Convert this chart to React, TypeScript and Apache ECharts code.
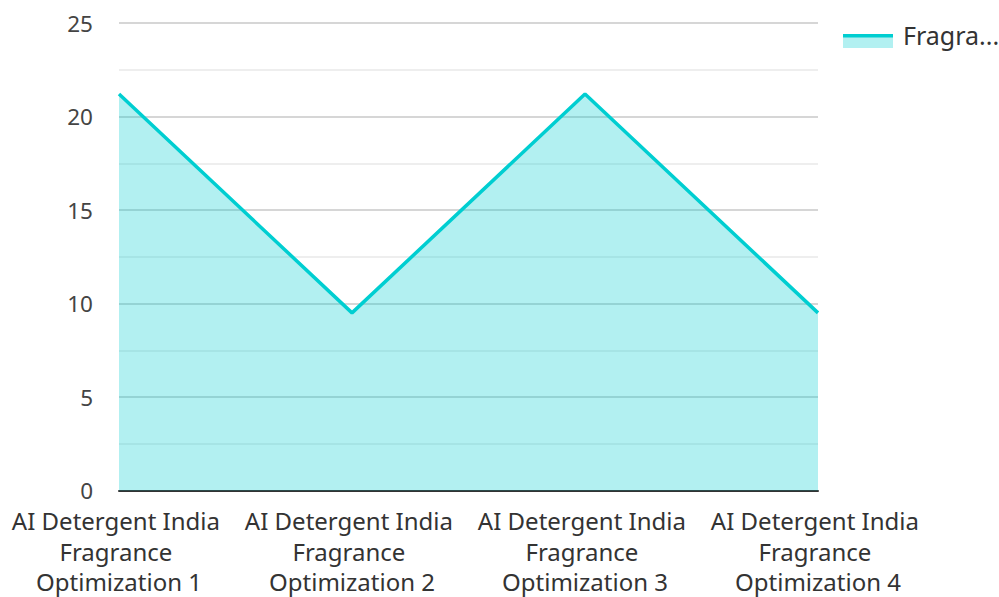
import React, { useEffect, useRef } from "react";
import * as echarts from "echarts";

const categories = [
  "AI Detergent India Fragrance Optimization 1",
  "AI Detergent India Fragrance Optimization 2",
  "AI Detergent India Fragrance Optimization 3",
  "AI Detergent India Fragrance Optimization 4",
];
const seriesName = "Fragrance Score";
const values = [21.2, 9.5, 21.2, 9.5];

export default function App() {
  const ref = useRef<HTMLDivElement>(null);
  useEffect(() => {
    document.body.style.margin = "0";
    const chart = echarts.init(ref.current!, null, { renderer: "svg" });
    const font = "'Noto Sans', sans-serif";
    chart.setOption({
      animation: false,
      textStyle: { fontFamily: font },
      grid: { left: 116, right: 181, top: 23, bottom: 106, containLabel: false },
      legend: {
        left: 843,
        top: 22,
        padding: 0,
        itemWidth: 50,
        itemHeight: 15,
        itemGap: 10,
        icon: "rect",
        itemStyle: { opacity: 0, borderWidth: 0 },
        textStyle: {
          fontSize: 25,
          color: "#333",
          fontFamily: font,
          width: 100,
          overflow: "truncate",
          padding: [0, 0, 6, 5],
        },
        data: [seriesName],
      },
      graphic: [
        {
          type: "rect",
          shape: { x: 843, y: 34, width: 50, height: 14 },
          style: { fill: "rgba(0,206,209,0.3)" },
          z: 100,
        },
        {
          type: "line",
          shape: { x1: 843, y1: 35.8, x2: 893, y2: 35.8 },
          style: { stroke: "#00CED1", lineWidth: 3.5 },
          z: 101,
        },
      ],
      xAxis: {
        type: "category",
        data: categories,
        boundaryGap: false,
        axisLine: { lineStyle: { color: "#333", width: 2 } },
        axisTick: { show: false },
        axisLabel: {
          fontSize: 24,
          color: "#333",
          fontFamily: font,
          width: 232,
          overflow: "break",
          lineHeight: 30.5,
          margin: 15,
          interval: 0,
        },
      },
      yAxis: {
        type: "value",
        min: 0,
        max: 25,
        interval: 5,
        axisLine: { show: false },
        axisTick: { show: false },
        axisLabel: {
          fontSize: 22.5,
          color: "#444",
          fontFamily: font,
          margin: 26,
          lineHeight: 16,
        },
        splitLine: { lineStyle: { color: "#c8c8c8", width: 1.5 } },
        minorTick: { show: false, splitNumber: 2 },
        minorSplitLine: { show: true, lineStyle: { color: "#e8e8e8", width: 1.5 } },
      },
      series: [
        {
          name: seriesName,
          type: "line",
          data: values,
          symbol: "none",
          lineStyle: { color: "#00CED1", width: 3.5 },
          itemStyle: { color: "#00CED1" },
          areaStyle: { color: "#00CED1", opacity: 0.3 },
        },
      ],
    });
    return () => chart.dispose();
  }, []);
  return (
    <div
      ref={ref}
      style={{ position: "absolute", left: 0, top: 0, width: 999, height: 597 }}
    />
  );
}
